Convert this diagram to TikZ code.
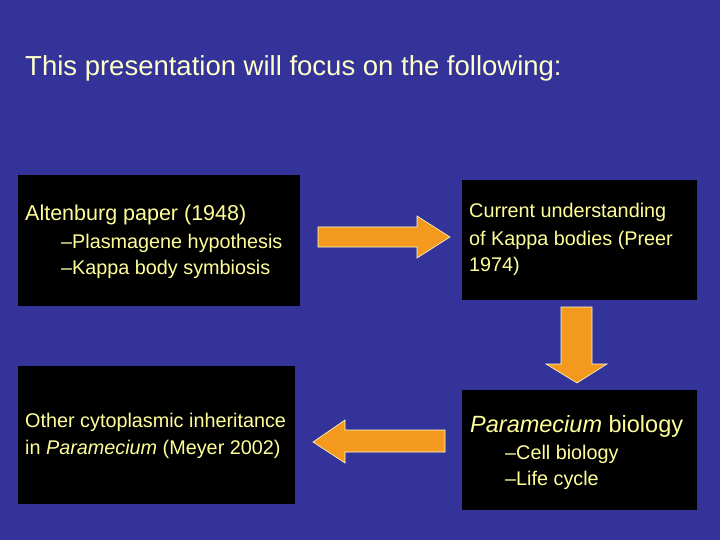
\documentclass[tikz,border=0pt]{standalone}
\usepackage{fontspec}
\setmainfont{Liberation Sans}
\definecolor{bg}{HTML}{333399}
\definecolor{tx}{HTML}{FFFF99}
\definecolor{ttl}{HTML}{FFFFCC}
\definecolor{org}{HTML}{F39A1E}
\begin{document}
\begin{tikzpicture}[x=1pt,y=-1pt,
  box/.style={fill=black},
  arr/.style={fill=org,draw=ttl,line width=0.6pt},
  t/.style={anchor=base west,text=tx,inner sep=0pt}]
\fill[bg] (0,0) rectangle (720,540);
\useasboundingbox (0,0) rectangle (720,540);
\node[t,text=ttl,font=\fontsize{27.5}{32}\selectfont] (title) at (25,76) {This presentation will focus on the following:};
\fill[box] (18,175) rectangle (300,306);
\fill[box] (462,180) rectangle (697,300);
\fill[box] (18,366) rectangle (295,504);
\fill[box] (462,390) rectangle (697,510);
\node[t,font=\fontsize{21.5}{24}\selectfont] (a1) at (25,221) {Altenburg paper (1948)};
\node[t,font=\fontsize{19.8}{22}\selectfont] (a2) at (61,248) {–Plasmagene hypothesis};
\node[t,font=\fontsize{19.8}{22}\selectfont] (a3) at (61,274) {–Kappa body symbiosis};
\node[t,font=\fontsize{19.8}{22}\selectfont] (b1) at (469,218) {Current understanding};
\node[t,font=\fontsize{19.8}{22}\selectfont] (b2) at (469,245) {of Kappa bodies (Preer};
\node[t,font=\fontsize{19.8}{22}\selectfont] (b3) at (469,271) {1974)};
\node[t,font=\fontsize{19.8}{22}\selectfont] (c1) at (25,427) {Other cytoplasmic inheritance};
\node[t,font=\fontsize{19.8}{22}\selectfont] (c2) at (25,454) {in \textit{Paramecium} (Meyer 2002)};
\node[t,font=\fontsize{23.5}{26}\selectfont] (d1) at (470,432) {\textit{Paramecium} biology};
\node[t,font=\fontsize{19.8}{22}\selectfont] (d2) at (505,459) {–Cell biology};
\node[t,font=\fontsize{19.8}{22}\selectfont] (d3) at (505,485) {–Life cycle};
\draw[arr] (318,227) -- (417,227) -- (417,216) -- (450,237) -- (417,258) -- (417,247) -- (318,247) -- cycle;
\draw[arr] (561,307) -- (592,307) -- (592,364) -- (607,364) -- (577,383) -- (546,364) -- (561,364) -- cycle;
\draw[arr] (445,430) -- (345,430) -- (345,420) -- (313,442) -- (345,463) -- (345,452) -- (445,452) -- cycle;
\end{tikzpicture}
\end{document}
